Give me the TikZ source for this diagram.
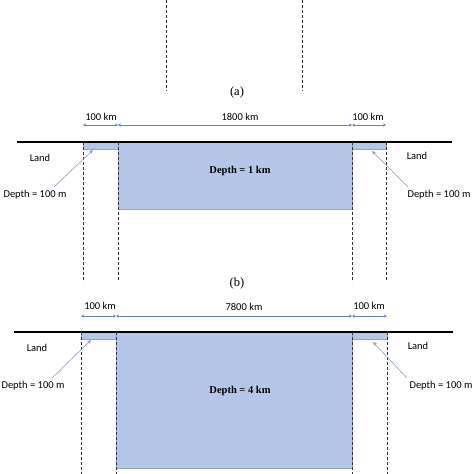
\documentclass[tikz,border=0pt]{standalone}
\usepackage{fontspec}
\setmainfont{Liberation Serif}
\newfontfamily\calib{Carlito}
\usetikzlibrary{arrows.meta}
\definecolor{seafill}{rgb}{0.71,0.78,0.91}
\definecolor{seaedge}{rgb}{0.56,0.64,0.80}
\definecolor{dimblue}{rgb}{0.36,0.52,0.78}
\definecolor{leadgray}{rgb}{0.55,0.62,0.76}
\tikzset{
  sea/.style={fill=seafill,draw=seaedge,line width=0.9pt},
  shore/.style={line width=1.3pt,black},
  guide/.style={line width=1pt,dash pattern=on 3pt off 2pt,black!80},
  dimline/.style={line width=0.5pt,dimblue,{Stealth[length=3pt,width=3pt]}-{Stealth[length=3pt,width=3pt]}},
  leader/.style={line width=0.6pt,leadgray,-{Stealth[length=4pt,width=3.5pt]}},
  sanslabel/.style={font=\calib\fontsize{10.5}{12}\selectfont},
  deeplabel/.style={font=\bfseries\fontsize{10.5}{12}\selectfont},
  caption/.style={font=\fontsize{12.5}{14}\selectfont}
}
\begin{document}
\begin{tikzpicture}[line cap=butt,line join=round,x=1pt,y=-1pt]
    \useasboundingbox (0,0) rectangle (474,474);
    \clip (0,0) rectangle (474,474);
    % (a) -- only the lower end of the guides is visible
    \draw [guide] (166,0) -- (166,91);
    \draw [guide] (302,0) -- (302,91);
    \node [caption] (capa) at (237,92) {(a)};
    % (b)
    \coordinate (bL) at (17,142);
    \coordinate (bR) at (452,142);
    \draw [sea] (83,142) rectangle (118,149);
    \draw [sea] (118,142) rectangle (352,209);
    \draw [sea] (352,142) rectangle (386,149);
    \draw [shore] (bL) -- (83,142);
    \draw [shore] (83,142) -- (386,142);
    \draw [shore] (386,142) -- (bR);
    \draw [guide] (83,142) -- (83,282);
    \draw [guide] (118,142) -- (118,282);
    \draw [guide] (352,142) -- (352,282);
    \draw [guide] (386,142) -- (386,282);
    \coordinate (b1) at (83,125);
    \coordinate (b2) at (118,125);
    \coordinate (b3) at (352,125);
    \coordinate (b4) at (386,125);
    \draw [dimline] (b1) -- (b2);
    \draw [dimline] (b2) -- (b3);
    \draw [dimline] (b3) -- (b4);
    \node [sanslabel] (bw1) at (101,117) {100 km};
    \node [sanslabel] (bw2) at (240,117) {1800 km};
    \node [sanslabel] (bw3) at (368,117) {100 km};
    \node [sanslabel] (bland1) at (40,158) {Land};
    \node [sanslabel] (bland2) at (417,156) {Land};
    \node [sanslabel] (bdep1) at (35,195) {Depth = 100 m};
    \node [sanslabel] (bdep2) at (439,195) {Depth = 100 m};
    \coordinate (bshelf1) at (93,150);
    \coordinate (bshelf2) at (372,151);
    \draw [leader] (bdep1.north east) ++(-16,0) -- (bshelf1);
    \draw [leader] (bdep2.north west) ++(4,0) -- (bshelf2);
    \node [deeplabel] (bdeep) at (240,171) {Depth = 1 km};
    \node [caption] (capb) at (237,283) {(b)};
    % (c)
    \coordinate (cL) at (14,332);
    \coordinate (cR) at (453,332);
    \draw [sea] (81,332) rectangle (116,339);
    \draw [sea] (116,332) rectangle (352,468);
    \draw [sea] (352,332) rectangle (387,339);
    \draw [shore] (cL) -- (81,332);
    \draw [shore] (81,332) -- (387,332);
    \draw [shore] (387,332) -- (cR);
    \draw [guide] (81,332) -- (81,474);
    \draw [guide] (116,332) -- (116,474);
    \draw [guide] (352,332) -- (352,474);
    \draw [guide] (387,332) -- (387,474);
    \coordinate (c1) at (81,316);
    \coordinate (c2) at (116,316);
    \coordinate (c3) at (352,316);
    \coordinate (c4) at (387,316);
    \draw [dimline] (c1) -- (c2);
    \draw [dimline] (c2) -- (c3);
    \draw [dimline] (c3) -- (c4);
    \node [sanslabel] (cw1) at (100,306) {100 km};
    \node [sanslabel] (cw2) at (244,307) {7800 km};
    \node [sanslabel] (cw3) at (369,306) {100 km};
    \node [sanslabel] (cland1) at (37,348) {Land};
    \node [sanslabel] (cland2) at (418,346) {Land};
    \node [sanslabel] (cdep1) at (33,386) {Depth = 100 m};
    \node [sanslabel] (cdep2) at (441,386) {Depth = 100 m};
    \coordinate (cshelf1) at (91,340);
    \coordinate (cshelf2) at (373,342);
    \draw [leader] (cdep1.north east) ++(-16,0) -- (cshelf1);
    \draw [leader] (cdep2.north west) ++(1,0) -- (cshelf2);
    \node [deeplabel] (cdeep) at (240,391) {Depth = 4 km};
\end{tikzpicture}
\end{document}
